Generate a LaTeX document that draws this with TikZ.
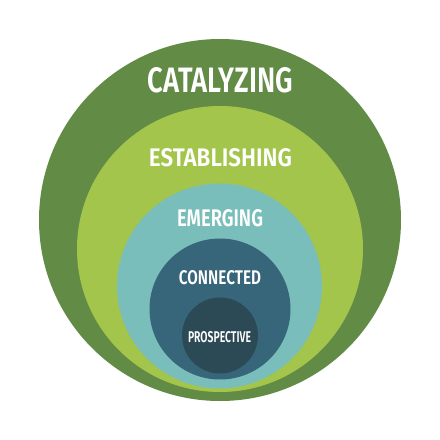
\documentclass[tikz,border=0pt]{standalone}
\usepackage{fontspec}
\setmainfont{Fira Sans}[BoldFont={Fira Sans SemiBold}]
\usepackage{graphicx}
\definecolor{cCat}{HTML}{628C45}
\definecolor{cEst}{HTML}{A3C54B}
\definecolor{cEme}{HTML}{79BEBA}
\definecolor{cCon}{HTML}{37667A}
\definecolor{cPro}{HTML}{2C4A55}
\tikzset{
  ring/.style={circle, inner sep=0pt, draw=none},
  lbl/.style={text=white, inner sep=0pt, font=\bfseries}
}
\newcommand{\fitlbl}[3]{\resizebox{#1pt}{#2pt}{#3}}
\begin{document}
\begin{tikzpicture}[x=1pt,y=-1pt]
\useasboundingbox[fill=white] (0,0) rectangle (440,440);
\node[ring, fill=cCat, minimum size=362pt] (cat) at (220,220) {};
\node[ring, fill=cEst, minimum size=286pt] (est) at (220,249) {};
\node[ring, fill=cEme, minimum size=205pt] (eme) at (219.5,286) {};
\node[ring, fill=cCon, minimum size=141pt] (con) at (220,309) {};
\node[ring, fill=cPro, minimum size=76pt] (pro) at (220,335.5) {};
\node[lbl] (tcat) at (220.5,80.5) {\fitlbl{145}{25}{CATALYZING}};
\node[lbl] (test) at (220.5,158) {\fitlbl{143}{18}{ESTABLISHING}};
\node[lbl] (teme) at (220,218.5) {\fitlbl{86}{17}{EMERGING}};
\node[lbl] (tcon) at (220,278) {\fitlbl{82}{14}{CONNECTED}};
\node[lbl] (tpro) at (219.5,337.5) {\fitlbl{63}{11}{PROSPECTIVE}};
\end{tikzpicture}
\end{document}
